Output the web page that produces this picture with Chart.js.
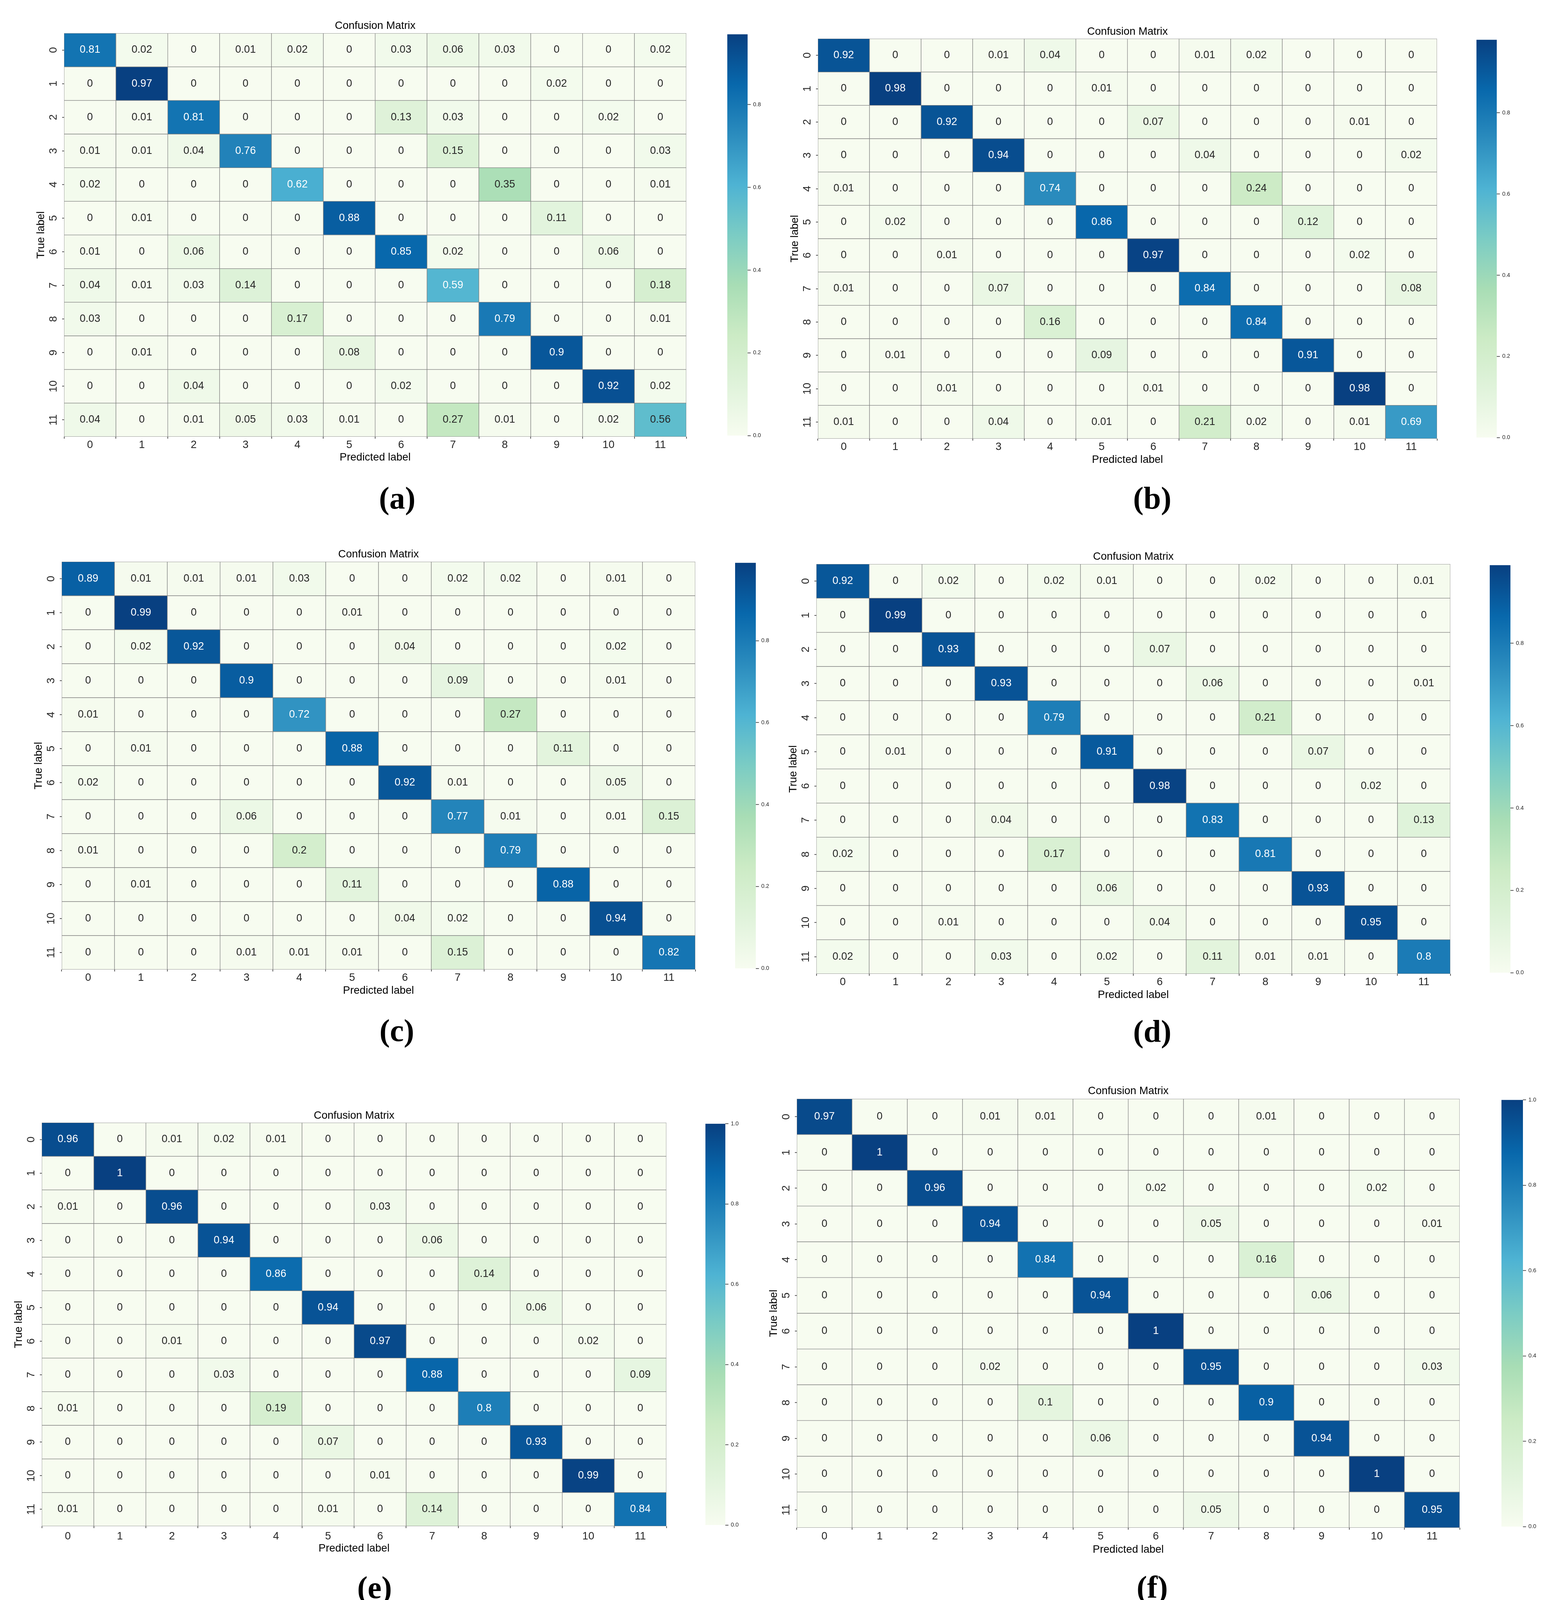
<!DOCTYPE html>
<html>
<head>
<meta charset="utf-8">
<script src="https://cdn.jsdelivr.net/npm/chart.js@4.4.1/dist/chart.umd.min.js"></script>
<style>
    html, body { margin: 0; padding: 0; background: #fff; }
    body { position: relative; width: 3999px; height: 4141px; overflow: hidden; }
    canvas { position: absolute; }
    .cap {
        position: absolute;
        font-family: "Liberation Serif", "DejaVu Serif", serif;
        font-weight: bold;
        font-size: 80px;
        line-height: 1;
        color: #000;
        transform: translate(-50%, -50%);
        white-space: nowrap;
    }
</style>
</head>
<body>
<script>
var predictedLabels = ['0', '1', '2', '3', '4', '5', '6', '7', '8', '9', '10', '11'];
var trueLabels = ['0', '1', '2', '3', '4', '5', '6', '7', '8', '9', '10', '11'];
var chartTitle = 'Confusion Matrix';
var xTitle = 'Predicted label';
var yTitle = 'True label';
var captions = ['(a)', '(b)', '(c)', '(d)', '(e)', '(f)'];

var cmA = [
    [0.81, 0.02, 0, 0.01, 0.02, 0, 0.03, 0.06, 0.03, 0, 0, 0.02],
    [0, 0.97, 0, 0, 0, 0, 0, 0, 0, 0.02, 0, 0],
    [0, 0.01, 0.81, 0, 0, 0, 0.13, 0.03, 0, 0, 0.02, 0],
    [0.01, 0.01, 0.04, 0.76, 0, 0, 0, 0.15, 0, 0, 0, 0.03],
    [0.02, 0, 0, 0, 0.62, 0, 0, 0, 0.35, 0, 0, 0.01],
    [0, 0.01, 0, 0, 0, 0.88, 0, 0, 0, 0.11, 0, 0],
    [0.01, 0, 0.06, 0, 0, 0, 0.85, 0.02, 0, 0, 0.06, 0],
    [0.04, 0.01, 0.03, 0.14, 0, 0, 0, 0.59, 0, 0, 0, 0.18],
    [0.03, 0, 0, 0, 0.17, 0, 0, 0, 0.79, 0, 0, 0.01],
    [0, 0.01, 0, 0, 0, 0.08, 0, 0, 0, 0.9, 0, 0],
    [0, 0, 0.04, 0, 0, 0, 0.02, 0, 0, 0, 0.92, 0.02],
    [0.04, 0, 0.01, 0.05, 0.03, 0.01, 0, 0.27, 0.01, 0, 0.02, 0.56]
];
var cmB = [
    [0.92, 0, 0, 0.01, 0.04, 0, 0, 0.01, 0.02, 0, 0, 0],
    [0, 0.98, 0, 0, 0, 0.01, 0, 0, 0, 0, 0, 0],
    [0, 0, 0.92, 0, 0, 0, 0.07, 0, 0, 0, 0.01, 0],
    [0, 0, 0, 0.94, 0, 0, 0, 0.04, 0, 0, 0, 0.02],
    [0.01, 0, 0, 0, 0.74, 0, 0, 0, 0.24, 0, 0, 0],
    [0, 0.02, 0, 0, 0, 0.86, 0, 0, 0, 0.12, 0, 0],
    [0, 0, 0.01, 0, 0, 0, 0.97, 0, 0, 0, 0.02, 0],
    [0.01, 0, 0, 0.07, 0, 0, 0, 0.84, 0, 0, 0, 0.08],
    [0, 0, 0, 0, 0.16, 0, 0, 0, 0.84, 0, 0, 0],
    [0, 0.01, 0, 0, 0, 0.09, 0, 0, 0, 0.91, 0, 0],
    [0, 0, 0.01, 0, 0, 0, 0.01, 0, 0, 0, 0.98, 0],
    [0.01, 0, 0, 0.04, 0, 0.01, 0, 0.21, 0.02, 0, 0.01, 0.69]
];
var cmC = [
    [0.89, 0.01, 0.01, 0.01, 0.03, 0, 0, 0.02, 0.02, 0, 0.01, 0],
    [0, 0.99, 0, 0, 0, 0.01, 0, 0, 0, 0, 0, 0],
    [0, 0.02, 0.92, 0, 0, 0, 0.04, 0, 0, 0, 0.02, 0],
    [0, 0, 0, 0.9, 0, 0, 0, 0.09, 0, 0, 0.01, 0],
    [0.01, 0, 0, 0, 0.72, 0, 0, 0, 0.27, 0, 0, 0],
    [0, 0.01, 0, 0, 0, 0.88, 0, 0, 0, 0.11, 0, 0],
    [0.02, 0, 0, 0, 0, 0, 0.92, 0.01, 0, 0, 0.05, 0],
    [0, 0, 0, 0.06, 0, 0, 0, 0.77, 0.01, 0, 0.01, 0.15],
    [0.01, 0, 0, 0, 0.2, 0, 0, 0, 0.79, 0, 0, 0],
    [0, 0.01, 0, 0, 0, 0.11, 0, 0, 0, 0.88, 0, 0],
    [0, 0, 0, 0, 0, 0, 0.04, 0.02, 0, 0, 0.94, 0],
    [0, 0, 0, 0.01, 0.01, 0.01, 0, 0.15, 0, 0, 0, 0.82]
];
var cmD = [
    [0.92, 0, 0.02, 0, 0.02, 0.01, 0, 0, 0.02, 0, 0, 0.01],
    [0, 0.99, 0, 0, 0, 0, 0, 0, 0, 0, 0, 0],
    [0, 0, 0.93, 0, 0, 0, 0.07, 0, 0, 0, 0, 0],
    [0, 0, 0, 0.93, 0, 0, 0, 0.06, 0, 0, 0, 0.01],
    [0, 0, 0, 0, 0.79, 0, 0, 0, 0.21, 0, 0, 0],
    [0, 0.01, 0, 0, 0, 0.91, 0, 0, 0, 0.07, 0, 0],
    [0, 0, 0, 0, 0, 0, 0.98, 0, 0, 0, 0.02, 0],
    [0, 0, 0, 0.04, 0, 0, 0, 0.83, 0, 0, 0, 0.13],
    [0.02, 0, 0, 0, 0.17, 0, 0, 0, 0.81, 0, 0, 0],
    [0, 0, 0, 0, 0, 0.06, 0, 0, 0, 0.93, 0, 0],
    [0, 0, 0.01, 0, 0, 0, 0.04, 0, 0, 0, 0.95, 0],
    [0.02, 0, 0, 0.03, 0, 0.02, 0, 0.11, 0.01, 0.01, 0, 0.8]
];
var cmE = [
    [0.96, 0, 0.01, 0.02, 0.01, 0, 0, 0, 0, 0, 0, 0],
    [0, 1, 0, 0, 0, 0, 0, 0, 0, 0, 0, 0],
    [0.01, 0, 0.96, 0, 0, 0, 0.03, 0, 0, 0, 0, 0],
    [0, 0, 0, 0.94, 0, 0, 0, 0.06, 0, 0, 0, 0],
    [0, 0, 0, 0, 0.86, 0, 0, 0, 0.14, 0, 0, 0],
    [0, 0, 0, 0, 0, 0.94, 0, 0, 0, 0.06, 0, 0],
    [0, 0, 0.01, 0, 0, 0, 0.97, 0, 0, 0, 0.02, 0],
    [0, 0, 0, 0.03, 0, 0, 0, 0.88, 0, 0, 0, 0.09],
    [0.01, 0, 0, 0, 0.19, 0, 0, 0, 0.8, 0, 0, 0],
    [0, 0, 0, 0, 0, 0.07, 0, 0, 0, 0.93, 0, 0],
    [0, 0, 0, 0, 0, 0, 0.01, 0, 0, 0, 0.99, 0],
    [0.01, 0, 0, 0, 0, 0.01, 0, 0.14, 0, 0, 0, 0.84]
];
var cmF = [
    [0.97, 0, 0, 0.01, 0.01, 0, 0, 0, 0.01, 0, 0, 0],
    [0, 1, 0, 0, 0, 0, 0, 0, 0, 0, 0, 0],
    [0, 0, 0.96, 0, 0, 0, 0.02, 0, 0, 0, 0.02, 0],
    [0, 0, 0, 0.94, 0, 0, 0, 0.05, 0, 0, 0, 0.01],
    [0, 0, 0, 0, 0.84, 0, 0, 0, 0.16, 0, 0, 0],
    [0, 0, 0, 0, 0, 0.94, 0, 0, 0, 0.06, 0, 0],
    [0, 0, 0, 0, 0, 0, 1, 0, 0, 0, 0, 0],
    [0, 0, 0, 0.02, 0, 0, 0, 0.95, 0, 0, 0, 0.03],
    [0, 0, 0, 0, 0.1, 0, 0, 0, 0.9, 0, 0, 0],
    [0, 0, 0, 0, 0, 0.06, 0, 0, 0, 0.94, 0, 0],
    [0, 0, 0, 0, 0, 0, 0, 0, 0, 0, 1, 0],
    [0, 0, 0, 0, 0, 0, 0, 0.05, 0, 0, 0, 0.95]
];

// where each panel sits on the page (matrix box, colorbar, caption)
var panels = [
    { cm: cmA, L: 164,  T: 85,   R: 1757, B: 1118, cbL: 1862, cbR: 1914, capX: 1017, capY: 1275, title: 19, xtick: 21, xlab: 53 },
    { cm: cmB, L: 2094, T: 99,   R: 3679, B: 1123, cbL: 3780, cbR: 3832, capX: 2950, capY: 1275, title: 18, xtick: 21, xlab: 54 },
    { cm: cmC, L: 158,  T: 1438, R: 1780, B: 2482, cbL: 1882, cbR: 1935, capX: 1016, capY: 2638, title: 19, xtick: 21, xlab: 54 },
    { cm: cmD, L: 2090, T: 1444, R: 3713, B: 2493, cbL: 3814, cbR: 3867, capX: 2950, capY: 2640, title: 19, xtick: 21, xlab: 54 },
    { cm: cmE, L: 107,  T: 2874, R: 1706, B: 3907, cbL: 1806, cbR: 1857, capX: 959,  capY: 4064, title: 18, xtick: 26, xlab: 57 },
    { cm: cmF, L: 2040, T: 2813, R: 3737, B: 3911, cbL: 3844, cbR: 3899, capX: 2950, capY: 4063, title: 20, xtick: 22, xlab: 56 }
];

var FONT = '"Liberation Sans", Arial, sans-serif';
var TEXT_DARK = '#262626';

// matplotlib GnBu
var gnbu = ['#f7fcf0', '#e0f3db', '#ccebc5', '#a8ddb5', '#7bccc4', '#4eb3d3', '#2b8cbe', '#0868ac', '#084081'];
var gnbuRgb = gnbu.map(function (h) {
    return [parseInt(h.substr(1, 2), 16), parseInt(h.substr(3, 2), 16), parseInt(h.substr(5, 2), 16)];
});

function cmapRgb(t) {
    t = Math.max(0, Math.min(1, t));
    var p = t * (gnbuRgb.length - 1);
    var i = Math.min(Math.floor(p), gnbuRgb.length - 2);
    var f = p - i;
    var a = gnbuRgb[i], b = gnbuRgb[i + 1];
    return [0, 1, 2].map(function (k) { return Math.round(a[k] + (b[k] - a[k]) * f); });
}

function rgbStr(c) {
    return 'rgb(' + c[0] + ',' + c[1] + ',' + c[2] + ')';
}

// seaborn picks white text on dark cells
function annotColor(c) {
    var lin = c.map(function (v) {
        v = v / 255;
        return v <= 0.03928 ? v / 12.92 : Math.pow((v + 0.055) / 1.055, 2.4);
    });
    var lum = 0.2126 * lin[0] + 0.7152 * lin[1] + 0.0722 * lin[2];
    return lum > 0.408 ? TEXT_DARK : '#ffffff';
}

var annotate = {
    id: 'annotate',
    afterDatasetsDraw: function (chart) {
        var ctx = chart.ctx;
        ctx.save();
        ctx.font = '27px ' + FONT;
        ctx.textAlign = 'center';
        ctx.textBaseline = 'middle';
        chart.data.datasets.forEach(function (ds, i) {
            chart.getDatasetMeta(i).data.forEach(function (bar, j) {
                var p = bar.getProps(['x', 'y', 'base'], true);
                ctx.fillStyle = ds.textColors[j];
                ctx.fillText(String(ds.values[j]), p.x, (p.y + p.base) / 2);
            });
        });
        ctx.restore();
    }
};

function addCanvas(left, top, w, h) {
    var c = document.createElement('canvas');
    c.width = w;
    c.height = h;
    c.style.left = left + 'px';
    c.style.top = top + 'px';
    c.style.width = w + 'px';
    c.style.height = h + 'px';
    document.body.appendChild(c);
    return c;
}

function makeMatrix(g, vmax) {
    var padL = 90, padT = 60, padR = 4;
    var padB = Math.round(g.xlab + 16.5 + 4);
    var w = padL + (g.R - g.L) + padR;
    var h = padT + (g.B - g.T) + padB;
    var canvas = addCanvas(g.L - padL, g.T - padT, w, h);

    var datasets = trueLabels.map(function (lab, r) {
        var cols = g.cm[r].map(function (v) { return cmapRgb(v / vmax); });
        return {
            label: 'True ' + lab,
            data: predictedLabels.map(function () { return [r, r + 1]; }),
            values: g.cm[r],
            backgroundColor: cols.map(rgbStr),
            textColors: cols.map(annotColor),
            borderColor: 'gray',
            borderWidth: 1,
            borderSkipped: false,
            barPercentage: 1,
            categoryPercentage: 1,
            grouped: false
        };
    });

    new Chart(canvas, {
        type: 'bar',
        data: { labels: predictedLabels, datasets: datasets },
        plugins: [annotate],
        options: {
            responsive: false,
            animation: false,
            devicePixelRatio: 1,
            layout: { padding: { left: 0, right: padR, top: 0, bottom: 0 } },
            plugins: {
                legend: { display: false },
                tooltip: { enabled: false },
                title: {
                    display: true,
                    text: chartTitle,
                    fullSize: false,
                    color: '#000',
                    font: { family: FONT, size: 27.5, weight: 'normal' },
                    padding: { top: padT - g.title - 16.5, bottom: g.title - 16.5 }
                }
            },
            scales: {
                x: {
                    type: 'category',
                    offset: true,
                    grid: { drawOnChartArea: false, drawTicks: true, tickLength: 5, tickColor: TEXT_DARK, tickWidth: 1.5 },
                    border: { display: false },
                    ticks: {
                        color: TEXT_DARK,
                        font: { family: FONT, size: 27.5 },
                        padding: g.xtick - 21.5,
                        minRotation: 0,
                        maxRotation: 0,
                        autoSkip: false
                    },
                    title: {
                        display: true,
                        text: xTitle,
                        color: '#000',
                        font: { family: FONT, size: 27.5 },
                        padding: { top: 0, bottom: 4 }
                    },
                    afterFit: function (s) { s.height = padB; }
                },
                y: {
                    type: 'linear',
                    min: 0,
                    max: trueLabels.length,
                    reverse: true,
                    afterBuildTicks: function (s) {
                        s.ticks = trueLabels.map(function (l, i) { return { value: i + 0.5 }; });
                    },
                    grid: { drawOnChartArea: false, drawTicks: true, tickLength: 5, tickColor: TEXT_DARK, tickWidth: 1.5 },
                    border: { display: false },
                    ticks: {
                        color: TEXT_DARK,
                        font: { family: FONT, size: 27.5 },
                        padding: 6,
                        minRotation: 90,
                        maxRotation: 90,
                        crossAlign: 'center',
                        autoSkip: false,
                        callback: function (v) { return trueLabels[Math.floor(v)]; }
                    },
                    title: {
                        display: true,
                        text: yTitle,
                        color: '#000',
                        font: { family: FONT, size: 27.5 },
                        padding: { top: padL - 16.5 - 59, bottom: 0 }
                    },
                    afterFit: function (s) { s.width = padL; }
                }
            }
        }
    });
}

function makeColorbar(g, vmax) {
    var padV = 12, axisW = 60;
    var w = (g.cbR - g.cbL) + axisW;
    var h = (g.B - g.T) + 2 * padV;
    var canvas = addCanvas(g.cbL, g.T - padV, w, h);

    new Chart(canvas, {
        type: 'bar',
        data: {
            labels: [''],
            datasets: [{
                data: [[0, vmax]],
                backgroundColor: function (c) {
                    var a = c.chart.chartArea;
                    if (!a) return gnbu[0];
                    var gr = c.chart.ctx.createLinearGradient(0, a.bottom, 0, a.top);
                    gnbu.forEach(function (col, i) { gr.addColorStop(i / (gnbu.length - 1), col); });
                    return gr;
                },
                borderWidth: 0,
                barPercentage: 1,
                categoryPercentage: 1
            }]
        },
        options: {
            responsive: false,
            animation: false,
            devicePixelRatio: 1,
            layout: { padding: { top: padV, bottom: padV, left: 0, right: 0 } },
            plugins: { legend: { display: false }, tooltip: { enabled: false } },
            scales: {
                x: { display: false },
                y: {
                    position: 'right',
                    min: 0,
                    max: vmax,
                    grid: { drawOnChartArea: false, drawTicks: true, tickLength: 8, tickColor: TEXT_DARK, tickWidth: 1.5 },
                    border: { display: false },
                    ticks: {
                        stepSize: 0.2,
                        includeBounds: false,
                        color: TEXT_DARK,
                        font: { family: FONT, size: 14.5 },
                        padding: 6,
                        callback: function (v) { return v.toFixed(1); }
                    },
                    afterFit: function (s) { s.width = axisW; }
                }
            }
        }
    });
}

panels.forEach(function (g, k) {
    var vmax = Math.max.apply(null, g.cm.map(function (row) { return Math.max.apply(null, row); }));
    makeMatrix(g, vmax);
    makeColorbar(g, vmax);

    var cap = document.createElement('div');
    cap.className = 'cap';
    cap.textContent = captions[k];
    cap.style.left = g.capX + 'px';
    cap.style.top = g.capY + 'px';
    document.body.appendChild(cap);
});
</script>
</body>
</html>
